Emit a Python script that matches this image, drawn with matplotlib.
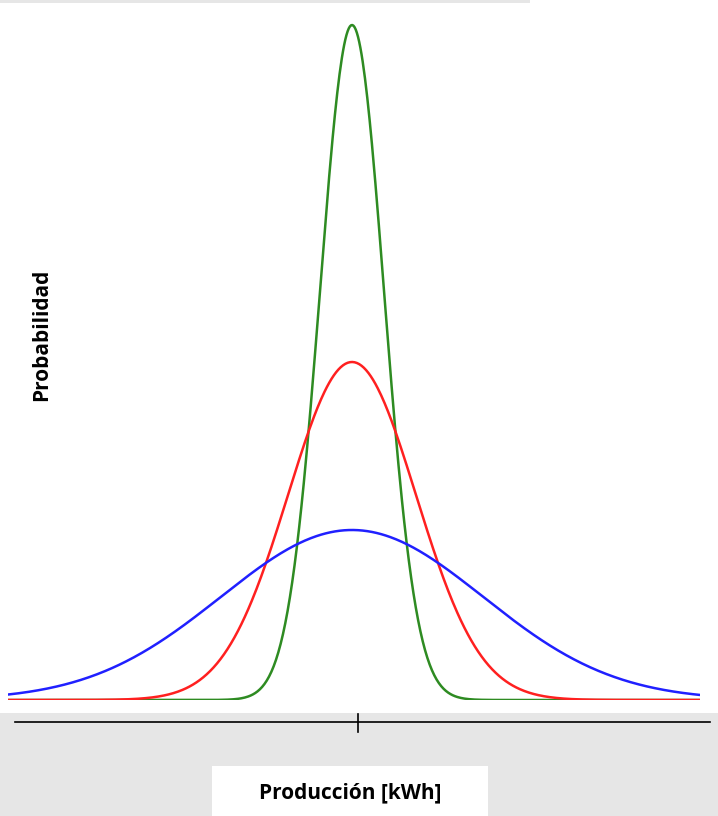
import numpy as np
import matplotlib
matplotlib.use("Agg")
import matplotlib.pyplot as plt
from matplotlib.patches import Rectangle

# Distribution parameters (production, arbitrary units centred at 0)
names = ["verde", "rojo", "azul"]
colors = ["#2e8b22", "#ff2020", "#2020ff"]
sigmas = [1.0, 2.0, 4.1]
peaks = [675, 338, 170]   # relative peak heights (probability scale)
mean = 0.0

W, H = 718, 816
fig = plt.figure(figsize=(W/100, H/100), dpi=100)
fig.patch.set_facecolor("white")

# background decorations
bg = fig.add_axes([0, 0, 1, 1])
bg.set_xlim(0, W); bg.set_ylim(H, 0); bg.axis("off")
bg.add_patch(Rectangle((0, 713), W, H-713, color="#e6e6e6", lw=0))
bg.add_patch(Rectangle((0, 0), 530, 3, color="#e6e6e6", lw=0))
bg.add_patch(Rectangle((212, 766), 276, 50, color="white", lw=0))
bg.plot([15, 710], [722, 722], color="black", lw=1.2)
bg.plot([358, 358], [714, 732], color="black", lw=1.2)
bg.text(350, 793, "Producción [kWh]", ha="center", va="center",
        fontsize=15, fontweight="bold", family="Open Sans")
bg.text(42, 335, "Probabilidad", ha="center", va="center", rotation=90,
        fontsize=15, fontweight="bold", family="Open Sans")

# curves axes: x in sigma units, pixel 352 -> 0, 32 px per unit
ax = fig.add_axes([8/W, (H-700)/H, (700-8)/W, 700/H])
ax.set_xlim((8-352)/32, (700-352)/32)
ax.set_ylim(0, 700)
ax.axis("off")
x = np.linspace((8-352)/32, (700-352)/32, 600)
for s, p, c in zip(sigmas, peaks, colors):
    ax.plot(x, p*np.exp(-0.5*((x-mean)/s)**2), color=c, lw=1.8)

fig.savefig("out.png", dpi=100)
